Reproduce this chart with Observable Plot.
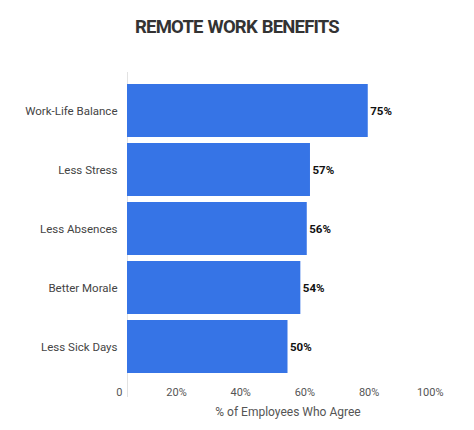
<!DOCTYPE html>
<html>
<head>
<meta charset="utf-8">
<script src="https://cdn.jsdelivr.net/npm/d3@7"></script>
<script src="https://cdn.jsdelivr.net/npm/@observablehq/plot@0.6"></script>
<style>
  body { margin: 0; background: #fff; font-family: Roboto, "Noto Sans", sans-serif; }
  #title { height: 52px; line-height: 54px; text-align: center; font-weight: bold; font-size: 18.5px; color: #333; letter-spacing: -0.8px; word-spacing: 1px; width: 474px; }
  svg { display: block; }
</style>
</head>
<body>
<div id="title">REMOTE WORK BENEFITS</div>
<div id="chart"></div>
<script>
const categories = ["Work-Life Balance", "Less Stress", "Less Absences", "Better Morale", "Less Sick Days"];
const values = [75, 57, 56, 54, 50];
const xTicks = [0, 20, 40, 60, 80, 100];
const xTickLabels = ["0", "20%", "40%", "60%", "80%", "100%"];
const xLabel = "% of Employees Who Agree";

const data = categories.map((c, i) => ({category: c, value: values[i]}));

const chart = Plot.plot({
  width: 474,
  height: 378,
  marginLeft: 127,
  marginRight: 26,
  marginTop: 24,
  marginBottom: 49,
  style: {fontFamily: "Roboto, sans-serif", background: "#fff"},
  x: {domain: [0, 100]},
  y: {domain: categories, padding: 0.1},
  marks: [
    Plot.ruleX([0], {stroke: "#e2e2e2", strokeWidth: 1, insetTop: -4, insetBottom: -16}),
    Plot.barX(data, {y: "category", x: "value", fill: "#3674e6"}),
    Plot.text(data, {y: "category", x: "value", text: d => d.value + "%", textAnchor: "start", dx: 2, fontWeight: "bold", fontSize: 11.5, fill: "#111"}),
    Plot.axisY({tickSize: 0, tickPadding: 10, fontSize: 11.5, color: "#444", label: null}),
    Plot.axisX({ticks: xTicks, tickFormat: (d) => xTickLabels[xTicks.indexOf(d)], tickSize: 0, tickPadding: 7, textAnchor: "end", dx: -5, fontSize: 11, color: "#555", label: null}),
    Plot.axisX({ticks: [], tickSize: 0, label: xLabel, labelAnchor: "center", labelArrow: "none", labelOffset: 34, fontSize: 12, color: "#555"})
  ]
});
document.getElementById("chart").appendChild(chart);
</script>
</body>
</html>
